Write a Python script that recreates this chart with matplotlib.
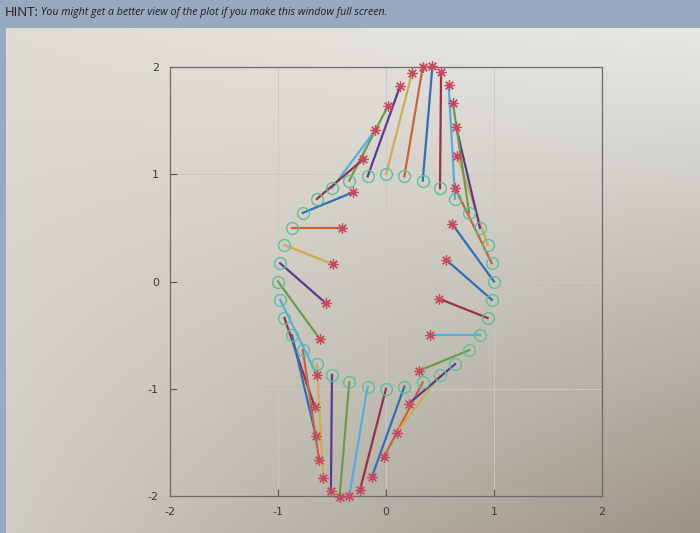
import numpy as np
import matplotlib
matplotlib.use("Agg")
import matplotlib.pyplot as plt

# points on the circle (every 10 degrees from 0)
circle_x = [1.00, 0.98, 0.94, 0.87, 0.77, 0.64, 0.50, 0.34, 0.17, 0.00,
            -0.17, -0.34, -0.50, -0.64, -0.77, -0.87, -0.94, -0.98,
            -1.00, -0.98, -0.94, -0.87, -0.77, -0.64, -0.50, -0.34, -0.17,
            0.00, 0.17, 0.34, 0.50, 0.64, 0.77, 0.87, 0.94, 0.98]
circle_y = [0.00, 0.17, 0.34, 0.50, 0.64, 0.77, 0.87, 0.94, 0.98, 1.00,
            0.98, 0.94, 0.87, 0.77, 0.64, 0.50, 0.34, 0.17,
            0.00, -0.17, -0.34, -0.50, -0.64, -0.77, -0.87, -0.94, -0.98,
            -1.00, -0.98, -0.94, -0.87, -0.77, -0.64, -0.50, -0.34, -0.17]

# where each circle point goes (the stars)
star_x = [0.61, 0.64, 0.66, 0.65, 0.62, 0.58, 0.51, 0.43, 0.34, 0.24,
          0.13, 0.02, -0.10, -0.21, -0.31, -0.41, -0.49, -0.56,
          -0.61, -0.64, -0.66, -0.65, -0.62, -0.58, -0.51, -0.43, -0.34,
          -0.24, -0.13, -0.02, 0.10, 0.21, 0.31, 0.41, 0.49, 0.56]
star_y = [0.54, 0.87, 1.17, 1.44, 1.66, 1.83, 1.95, 2.01, 2.00, 1.94,
          1.82, 1.64, 1.41, 1.14, 0.83, 0.50, 0.16, -0.20,
          -0.54, -0.87, -1.17, -1.44, -1.66, -1.83, -1.95, -2.01, -2.00,
          -1.94, -1.82, -1.64, -1.41, -1.14, -0.83, -0.50, -0.16, 0.20]

ticks = [-2, -1, 0, 1, 2]

# matlab default colour order, a bit washed out like on the photo
line_colors = ['#2f6fb8', '#c8643c', '#d2aa55', '#5e3a8e',
               '#70994e', '#55aee0', '#963246']

fig = plt.figure(figsize=(7, 5.33), dpi=100)
fig.patch.set_facecolor('#97a9bf')

# background: the photographed screen, lighter top left, darker bottom right
bg = fig.add_axes([6/700, 0, 1 - 6/700, 1 - 28/533])
bg.axis('off')
u = np.linspace(0, 1, 200)
v = np.linspace(0, 1, 200)
U, V = np.meshgrid(u, v)
tl = np.array([224, 220, 211]) / 255
tr = np.array([232, 232, 229]) / 255
bl = np.array([208, 204, 195]) / 255
br = np.array([155, 149, 135]) / 255
img = ((1 - U)[..., None] * (1 - V)[..., None] * tl + U[..., None] * (1 - V)[..., None] * tr
       + (1 - U)[..., None] * V[..., None] * bl + U[..., None] * V[..., None] * br)
bg.imshow(img, aspect='auto', extent=[0, 1, 0, 1])
bg.set_xlim(0, 1)
bg.set_ylim(0, 1)

fig.text(5/700, 1 - 12/533, 'HINT:', fontsize=9.5, family='Open Sans',
         color='#1e1e1e', va='center', ha='left')
fig.text(41/700, 1 - 12/533, 'You might get a better view of the plot if you make this window full screen.',
         fontsize=7.7, family='Open Sans', style='italic',
         color='#1e1e1e', va='center', ha='left')

ax = fig.add_axes([170/700, 1 - 496/533, 432/700, 429/533])
ax.patch.set_alpha(0)

for i in range(len(circle_x)):
    ax.plot([circle_x[i], star_x[i]], [circle_y[i], star_y[i]],
            color=line_colors[i % 7], lw=1.6, zorder=2)

ax.plot(circle_x, circle_y, 'o', ms=8.5, mfc='none', mec='#5cbf9c', mew=1.0,
        zorder=3, clip_on=False)
ax.plot(star_x, star_y, marker=(8, 2, 0), ls='none', ms=7.5, mec='#c44a5e',
        mew=0.9, zorder=4, clip_on=False)

ax.set_xlim(-2, 2)
ax.set_ylim(-2, 2)
ax.set_xticks(ticks)
ax.set_yticks(ticks)
ax.set_xticklabels([str(t) for t in ticks])
ax.set_yticklabels([str(t) for t in ticks])
ax.grid(True, color='#c9c9c6', lw=0.7)
ax.set_axisbelow(True)
ax.tick_params(direction='in', length=5, color='#555555', labelsize=8,
               labelcolor='#3a3a3a', pad=8)
for s in ax.spines.values():
    s.set_color('#6a6a6a')
    s.set_linewidth(0.9)

plt.savefig('out.png', dpi=100, facecolor=fig.get_facecolor())
